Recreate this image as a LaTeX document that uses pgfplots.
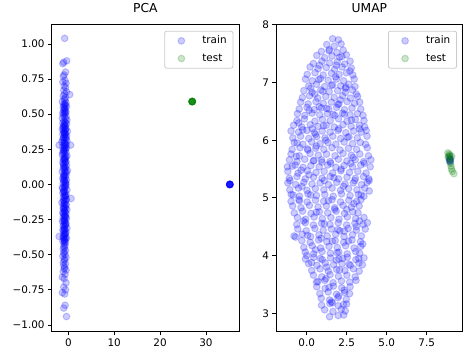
\documentclass[border=0pt]{standalone}
\usepackage{pgfplots}
\pgfplotsset{compat=1.18}
\usepackage{fontspec}
\setmainfont{DejaVu Sans}
\definecolor{mplblue}{RGB}{0,0,255}
\definecolor{mplgreen}{RGB}{0,128,0}
\definecolor{legedge}{RGB}{204,204,204}
\pgfplotsset{
  trainst/.style={only marks, mark=*, mark size=3.35pt, mark options={draw=mplblue, fill=mplblue, opacity=0.2, line width=1.03pt}},
  testst/.style={only marks, mark=*, mark size=3.35pt, mark options={draw=mplgreen, fill=mplgreen, opacity=0.2, line width=1.03pt}},
  mplaxis/.style={
    scale only axis, anchor=south west,
    axis line style={line width=0.82pt, black},
    tick align=outside, major tick length=3.6pt,
    every tick/.style={black, line width=0.82pt},
    xtick pos=bottom, ytick pos=left,
    ticklabel style={font=\fontsize{10.4}{12}\selectfont},
    title style={at={(0.5,1)}, anchor=base, yshift=6.2pt, inner sep=0pt, font=\fontsize{12.3}{14}\selectfont},
    legend cell align=left,
    legend image code/.code={\path[draw=none,fill=none] (0pt,-3pt) rectangle (31.4pt,3pt); \draw[##1,only marks] plot coordinates {(14.4pt,0pt)};},
    legend style={at={(1,1)}, anchor=north east, xshift=-5.7pt, yshift=-6.5pt, draw=legedge, line width=0.8pt, rounded corners=2pt, fill=white, fill opacity=0.8, draw opacity=1, text opacity=1, font=\fontsize{10.4}{12}\selectfont, inner xsep=2.3pt, inner ysep=2.85pt, row sep=4.1pt, column sep=0pt,
      nodes={inner xsep=4pt, inner ysep=2pt, text height=7.6pt, text depth=2pt}},
  }
}
\begin{document}
\begin{tikzpicture}
\useasboundingbox (0,0) rectangle (474pt,361pt);
% ---------------- PCA ----------------
\begin{axis}[mplaxis, at={(51.7pt,29.3pt)}, width=187.3pt, height=307.4pt,
  xmin=-3.62, xmax=37.2, ymin=-1.048, ymax=1.14,
  xtick={0,10,20,30}, xticklabels={0,10,20,30},
  ytick={-1,-0.75,-0.5,-0.25,0,0.25,0.5,0.75,1},
  yticklabels={−1.00,−0.75,−0.50,−0.25,0.00,0.25,0.50,0.75,1.00},
  title={PCA}]
\addplot[trainst] coordinates {
(-0.8,0.503)(-1.1,0.497)(-0.5,0.486)(-0.9,0.481)(-1.3,0.472)(-0.6,0.468)(-0.3,0.459)(-1.0,0.452)(-0.7,0.447)(-1.2,0.438)(-0.4,0.433)(-0.9,0.426)(-0.6,0.418)(-1.1,0.414)(-0.8,0.407)(-0.5,0.399)(-1.3,0.394)(-0.7,0.388)(-1.0,0.383)(-0.2,0.377)(-0.9,0.369)(-0.6,0.366)(-1.2,0.358)(-0.8,0.351)(-0.4,0.346)(-1.0,0.338)(-0.7,0.334)(-1.1,0.329)(-0.5,0.321)(-0.9,0.314)(-0.3,0.309)(-1.4,0.302)(-0.8,0.296)(-0.6,0.288)(-1.0,0.281)(-0.7,0.276)(-1.2,0.268)(-0.4,0.262)(-0.9,0.254)(-0.6,0.249)(-1.1,0.241)(-0.8,0.236)(-0.5,0.228)(-1.0,0.222)(-0.7,0.214)(-1.3,0.211)(-0.3,0.203)(-0.9,0.192)(-0.6,0.186)(-1.1,0.181)(-0.8,0.171)(-0.5,0.163)(-1.2,0.159)(-0.7,0.152)(-1.0,0.141)(-0.4,0.136)(-0.9,0.128)(-0.6,0.121)(-1.1,0.112)(-0.8,0.104)(-0.2,0.099)(-1.3,0.091)(-0.7,0.083)(-1.0,0.074)(-0.5,0.068)(-0.9,0.061)(-0.6,0.052)(-1.2,0.046)(-0.8,0.038)(-0.4,0.031)(-1.0,0.022)(-0.7,0.016)(-1.1,0.008)(-0.5,0.001)(-0.9,-0.009)(-0.6,-0.016)(-1.3,-0.022)(-0.8,-0.031)(-0.3,-0.038)(-1.0,-0.046)(-0.7,-0.052)(-1.2,-0.061)(-0.5,-0.069)(-0.9,-0.076)(-0.6,-0.082)(-1.1,-0.091)(-0.8,-0.098)(-0.4,-0.106)(-1.0,-0.112)(-0.7,-0.121)(-1.4,-0.128)(-0.9,-0.134)(-0.5,-0.142)(-1.1,-0.151)(-0.8,-0.158)(-0.6,-0.166)(-1.0,-0.171)(-0.3,-0.179)(-0.9,-0.186)(-0.7,-0.192)(-1.2,-0.199)(-0.5,-0.207)(-1.0,-0.213)(-0.8,-0.221)(-0.6,-0.226)(-1.1,-0.234)(-0.4,-0.241)(-0.9,-0.248)(-0.7,-0.254)(-1.3,-0.262)(-0.8,-0.268)(-0.5,-0.276)(-1.0,-0.283)(-0.6,-0.289)(-1.1,-0.296)(-0.9,-0.304)(-0.3,-0.311)(-0.7,-0.318)(-1.2,-0.324)(-0.8,-0.331)(-0.5,-0.339)(-1.0,-0.344)(-0.6,-0.352)(-0.9,-0.361)(-1.1,-0.368)(-0.7,-0.374)(-0.4,-0.381)(-1.0,-0.389)(-0.8,-0.396)(-1.2,-0.404)(-0.6,-0.412)(-0.9,-0.421)(-0.7,-0.433)(-1.0,-0.442)
(-0.9,0.421)(-0.6,0.392)(-1.0,0.373)(-0.7,0.355)(-1.2,0.318)(-0.5,0.284)(-0.8,0.271)(-1.0,0.243)(-0.6,0.197)(-0.9,0.176)(-1.1,0.147)(-0.7,0.118)(-0.4,0.087)(-1.0,0.057)(-0.8,0.027)(-0.6,-0.004)(-1.2,-0.027)(-0.9,-0.057)(-0.7,-0.087)(-1.0,-0.117)(-0.5,-0.146)(-0.8,-0.176)(-1.1,-0.204)(-0.6,-0.231)(-0.9,-0.259)(-0.7,-0.293)(-1.0,-0.327)(-0.8,-0.358)(-0.6,-0.386)(-0.9,-0.409)
(-0.7,0.438)(-1.1,0.402)(-0.8,0.364)(-0.5,0.331)(-0.9,0.299)(-0.7,0.259)(-1.2,0.226)(-0.8,0.183)(-0.6,0.158)(-1.0,0.124)(-0.7,0.094)(-0.9,0.064)(-1.1,0.034)(-0.6,0.011)(-0.8,-0.019)(-1.0,-0.049)(-0.7,-0.079)(-0.5,-0.109)(-0.9,-0.139)(-1.1,-0.169)(-0.7,-0.196)(-0.8,-0.228)(-1.0,-0.257)(-0.6,-0.281)(-0.9,-0.316)(-0.7,-0.348)(-1.1,-0.377)(-0.8,-0.398)
(-0.8,1.04)(-0.35,0.88)(-1.0,0.87)(-1.2,0.86)(-0.6,0.80)(-0.9,0.78)(-1.1,0.77)(-0.7,0.74)(-1.2,0.73)(-0.5,0.72)(-0.9,0.70)(-0.6,0.69)(-1.0,0.67)(-0.4,0.66)(-0.8,0.645)(-1.1,0.63)(-0.6,0.62)(-0.9,0.61)(-0.7,0.60)(-1.3,0.59)(-0.5,0.58)(-0.8,0.575)(-1.0,0.57)(-0.6,0.565)(-0.9,0.56)(-0.4,0.555)(-1.1,0.55)(-0.7,0.545)(-0.8,0.54)(-1.0,0.53)(-0.6,0.525)(-0.9,0.52)(-0.5,0.515)(-1.2,0.51)(-0.7,0.508)
(-2.0,0.28)(-2.0,-0.37)(0.5,0.28)(0.6,-0.10)(0.3,0.64)
(-0.8,-0.45)(-1.1,-0.46)(-0.6,-0.47)(-0.9,-0.48)(-1.0,-0.49)(-0.7,-0.50)(-1.2,-0.51)(-0.5,-0.52)(-0.9,-0.53)(-0.8,-0.54)(-1.1,-0.555)(-0.6,-0.565)(-1.0,-0.575)(-0.8,-0.59)(-0.9,-0.60)(-0.5,-0.61)(-1.1,-0.62)(-0.7,-0.64)(-1.3,-0.66)(-0.9,-0.67)(-0.5,-0.70)(-1.0,-0.73)(-0.6,-0.75)(-1.3,-0.77)(-0.8,-0.78)(-0.7,-0.86)(-1.0,-0.88)(-0.4,-0.94)
(35.2,0.0)(35.2,0.0)(35.2,0.0)(35.2,0.0)(35.2,0.0)(35.2,0.0)(35.2,0.0)(35.2,0.0)(35.2,0.0)(35.2,0.0)
};
\addlegendentry{train}
\addplot[testst] coordinates {
(27.0,0.59)(27.0,0.59)(27.0,0.59)(27.0,0.59)(27.0,0.59)(27.0,0.59)(27.0,0.59)(27.0,0.59)(27.0,0.59)(27.0,0.59)
};
\addlegendentry{test}
\end{axis}
% ---------------- UMAP ----------------
\begin{axis}[mplaxis, at={(276pt,29.3pt)}, width=186.7pt, height=307.4pt,
  xmin=-1.92, xmax=9.75, ymin=2.68, ymax=8.01,
  xtick={0,2.5,5,7.5}, xticklabels={0.0,2.5,5.0,7.5},
  ytick={3,4,5,6,7,8}, yticklabels={3,4,5,6,7,8},
  title={UMAP}]
\addplot[trainst] coordinates {
(1.62,7.76)(1.98,7.74)
(1.25,7.66)(1.72,7.63)(2.15,7.67)
(0.92,7.54)(1.41,7.57)(1.88,7.52)(2.28,7.56)
(0.63,7.47)(1.12,7.43)(1.58,7.46)(2.05,7.44)(2.48,7.48)
(0.42,7.33)(0.95,7.37)(1.43,7.34)(1.91,7.36)(2.38,7.32)(2.71,7.37)
(0.21,7.27)(0.71,7.24)(1.22,7.26)(1.74,7.23)(2.21,7.27)(2.79,7.25)
(0.03,7.14)(0.52,7.17)(1.03,7.13)(1.55,7.16)(2.02,7.14)(2.48,7.17)(2.88,7.13)
(-0.08,7.06)(0.35,7.03)(0.86,7.07)(1.34,7.04)(1.86,7.06)(2.31,7.03)(2.97,7.06)
(0.12,6.94)(0.61,6.97)(1.12,6.93)(1.62,6.96)(2.12,6.94)(2.63,6.97)(3.02,6.93)
(-0.18,6.86)(0.33,6.83)(0.88,6.87)(1.41,6.84)(1.93,6.86)(2.42,6.83)(2.86,6.87)
(-0.27,6.74)(0.18,6.77)(0.69,6.73)(1.19,6.76)(1.71,6.74)(2.24,6.77)(2.73,6.73)(3.18,6.76)
(-0.38,6.66)(0.09,6.63)(0.58,6.67)(1.03,6.64)(1.54,6.66)(2.01,6.63)(2.52,6.67)(2.99,6.64)(3.31,6.66)
(-0.47,6.54)(0.02,6.57)(0.47,6.53)(0.92,6.56)(1.38,6.54)(1.87,6.57)(2.36,6.53)(2.83,6.56)(3.38,6.54)
(-0.58,6.46)(-0.12,6.43)(0.34,6.47)(0.81,6.44)(1.29,6.46)(1.76,6.43)(2.24,6.47)(2.71,6.44)(3.17,6.46)(3.52,6.43)
(-0.61,6.34)(-0.15,6.37)(0.51,6.33)(0.98,6.36)(1.47,6.34)(1.99,6.37)(2.52,6.33)(3.04,6.36)(3.58,6.34)
(-0.82,6.26)(-0.31,6.23)(0.22,6.27)(0.71,6.24)(1.23,6.26)(1.72,6.23)(2.27,6.27)(2.78,6.24)(3.29,6.26)(3.62,6.23)
(-0.98,6.16)(-0.51,6.14)(0.02,6.17)(0.48,6.13)(0.97,6.16)(1.46,6.14)(1.96,6.17)(2.44,6.13)(2.93,6.16)(3.41,6.14)(3.72,6.17)
(-0.87,6.04)(-0.38,6.07)(0.13,6.03)(0.62,6.06)(1.14,6.04)(1.63,6.07)(2.12,6.03)(2.64,6.06)(3.16,6.04)(3.77,6.07)
(-0.78,5.96)(-0.24,5.93)(0.31,5.97)(0.84,5.94)(1.33,5.96)(1.82,5.93)(2.34,5.97)(2.87,5.94)(3.35,5.96)(3.68,5.93)
(-0.91,5.84)(-0.42,5.87)(0.07,5.83)(0.56,5.86)(1.07,5.84)(1.58,5.87)(2.08,5.83)(2.61,5.86)(3.12,5.84)(3.79,5.87)
(-0.98,5.76)(-0.46,5.73)(0.21,5.77)(0.72,5.74)(1.24,5.76)(1.77,5.73)(2.27,5.77)(2.79,5.74)(3.32,5.76)(3.86,5.73)
(-1.08,5.66)(-0.61,5.63)(-0.12,5.67)(0.41,5.64)(0.93,5.66)(1.46,5.63)(1.98,5.67)(2.51,5.64)(3.03,5.66)(3.56,5.63)(4.01,5.66)
(-1.21,5.54)(-0.72,5.57)(-0.23,5.53)(0.26,5.56)(0.78,5.54)(1.31,5.57)(1.82,5.53)(2.34,5.56)(2.86,5.54)(3.38,5.57)(3.97,5.54)
(-1.18,5.46)(-0.54,5.43)(0.04,5.47)(0.58,5.44)(1.09,5.46)(1.62,5.43)(2.14,5.47)(2.67,5.44)(3.19,5.46)(3.71,5.43)
(-1.09,5.34)(-0.61,5.37)(-0.09,5.33)(0.43,5.36)(0.96,5.34)(1.47,5.37)(1.99,5.33)(2.52,5.36)(3.04,5.34)(3.55,5.37)(3.88,5.33)
(-1.18,5.26)(-0.69,5.23)(-0.18,5.27)(0.33,5.24)(0.84,5.26)(1.36,5.23)(1.88,5.27)(2.39,5.24)(2.91,5.26)(3.43,5.23)(3.78,5.27)
(-1.06,5.14)(-0.52,5.17)(0.02,5.13)(0.54,5.16)(1.07,5.14)(1.59,5.17)(2.11,5.13)(2.62,5.16)(3.14,5.14)(3.62,5.17)(3.91,5.12)
(-0.97,5.06)(-0.45,5.03)(0.08,5.07)(0.61,5.04)(1.13,5.06)(1.66,5.03)(2.18,5.07)(2.71,5.04)(3.23,5.06)(3.58,5.03)
(-0.98,4.94)(-0.49,4.97)(0.03,4.93)(0.55,4.96)(1.06,4.94)(1.58,4.97)(2.11,4.93)(2.63,4.96)(3.12,4.94)(3.39,4.97)
(-0.88,4.86)(-0.36,4.83)(0.17,4.87)(0.71,4.84)(1.23,4.86)(1.75,4.83)(2.27,4.87)(2.79,4.84)(3.28,4.86)
(-0.78,4.74)(-0.26,4.77)(0.27,4.73)(0.79,4.76)(1.31,4.74)(1.84,4.77)(2.36,4.73)(2.88,4.76)(3.21,4.74)
(-0.58,4.66)(-0.07,4.63)(0.46,4.67)(0.98,4.64)(1.51,4.66)(2.02,4.63)(2.54,4.67)(3.06,4.64)(3.58,4.66)
(-0.62,4.54)(-0.09,4.57)(0.42,4.53)(0.93,4.56)(1.45,4.54)(1.97,4.57)(2.49,4.53)(3.01,4.56)(3.52,4.54)(3.79,4.57)
(-0.56,4.46)(-0.03,4.43)(0.51,4.47)(1.03,4.44)(1.55,4.46)(2.07,4.43)(2.59,4.47)(3.11,4.44)(3.66,4.46)
(-0.79,4.34)(-0.28,4.37)(0.24,4.33)(0.76,4.36)(1.28,4.34)(1.81,4.37)(2.33,4.33)(2.86,4.36)(3.42,4.34)
(-0.31,4.26)(0.22,4.23)(0.74,4.27)(1.26,4.24)(1.78,4.26)(2.31,4.23)(2.83,4.27)(3.36,4.24)
(-0.18,4.14)(0.34,4.17)(0.87,4.13)(1.39,4.16)(1.91,4.14)(2.43,4.17)(2.96,4.13)(3.38,4.16)
(-0.09,4.06)(0.43,4.03)(0.96,4.07)(1.48,4.04)(2.01,4.06)(2.53,4.03)(3.06,4.07)(3.31,4.04)
(-0.08,3.94)(0.44,3.97)(0.97,3.93)(1.49,3.96)(2.01,3.94)(2.54,3.97)(3.07,3.93)(3.58,3.96)
(0.12,3.86)(0.64,3.83)(1.16,3.87)(1.68,3.84)(2.21,3.86)(2.73,3.83)(3.26,3.87)(3.48,3.84)
(0.31,3.74)(0.83,3.77)(1.35,3.73)(1.87,3.76)(2.39,3.74)(2.92,3.77)(3.28,3.73)
(0.42,3.66)(0.94,3.63)(1.46,3.67)(1.98,3.64)(2.51,3.66)(3.03,3.63)
(0.61,3.54)(1.13,3.57)(1.65,3.53)(2.17,3.56)(2.69,3.54)(3.08,3.57)
(0.63,3.46)(1.15,3.43)(1.67,3.47)(2.19,3.44)(2.71,3.46)
(0.82,3.34)(1.34,3.37)(1.86,3.33)(2.38,3.36)(2.68,3.34)
(0.91,3.26)(1.43,3.23)(1.95,3.27)(2.47,3.24)
(0.93,3.14)(1.45,3.17)(1.97,3.13)(2.49,3.16)
(1.12,3.06)(1.64,3.03)(2.16,3.07)(2.41,3.04)
(1.43,2.94)(1.97,2.96)(2.31,2.97)
(0.15,6.52)(1.55,6.95)(2.45,6.92)(0.78,6.58)(1.05,6.25)(1.95,6.62)(2.55,6.05)(0.45,5.65)(-0.35,5.48)(0.25,5.05)(1.35,4.95)(1.95,4.45)(2.35,4.42)(2.25,3.95)(1.85,3.92)(1.55,3.20)(1.60,3.18)(2.30,3.15)(2.35,3.40)(2.42,6.90)(1.80,7.10)(2.10,6.70)(0.55,6.10)(-0.25,6.18)(-0.60,5.95)(0.95,5.62)(1.70,5.35)(2.90,5.70)(3.00,5.30)(2.50,4.80)(2.95,4.90)(3.10,4.50)(3.50,4.20)(0.05,4.35)(-0.20,4.60)(-0.70,4.32)(0.00,4.00)(0.30,3.88)(0.70,3.55)(1.20,3.60)(1.25,3.80)(2.05,3.75)(2.65,3.85)(3.30,4.60)(3.60,5.60)(3.90,5.30)(3.30,6.20)(3.10,6.80)(2.70,7.20)(1.40,7.55)(1.85,7.30)(0.75,7.05)(0.25,6.90)(-0.50,6.30)(-0.90,5.55)(-0.85,5.05)(-0.45,4.95)(0.60,4.75)(1.10,4.55)(1.60,4.25)(2.60,4.25)(2.30,5.20)(1.50,5.60)(0.60,5.90)(1.20,6.00)(2.00,6.20)(2.80,6.35)(1.65,6.45)(0.35,6.20)(1.00,6.85)(0.80,7.30)(2.20,7.45)(1.10,5.30)(0.15,5.40)(-0.65,5.72)(-1.05,5.30)(2.75,5.60)(3.40,5.05)(3.25,3.95)(0.55,4.10)(0.90,4.30)(1.75,4.80)(2.15,5.50)(1.25,6.55)(0.50,6.80)(2.35,6.45)(0.05,5.85)(-0.30,5.20)(1.90,4.05)(1.40,3.45)(2.00,3.30)(0.85,3.95)
(8.95,5.66)(8.95,5.66)(8.96,5.64)(8.94,5.68)(8.93,5.72)(8.97,5.62)
};
\addlegendentry{train}
\addplot[testst] coordinates {
(8.82,5.78)(8.90,5.76)(8.95,5.74)(8.87,5.72)(9.00,5.68)(8.85,5.70)(8.98,5.60)(9.02,5.55)(9.05,5.50)(9.10,5.46)(9.20,5.42)(8.92,5.64)(9.06,5.72)
};
\addlegendentry{test}
\end{axis}
\end{tikzpicture}
\end{document}
